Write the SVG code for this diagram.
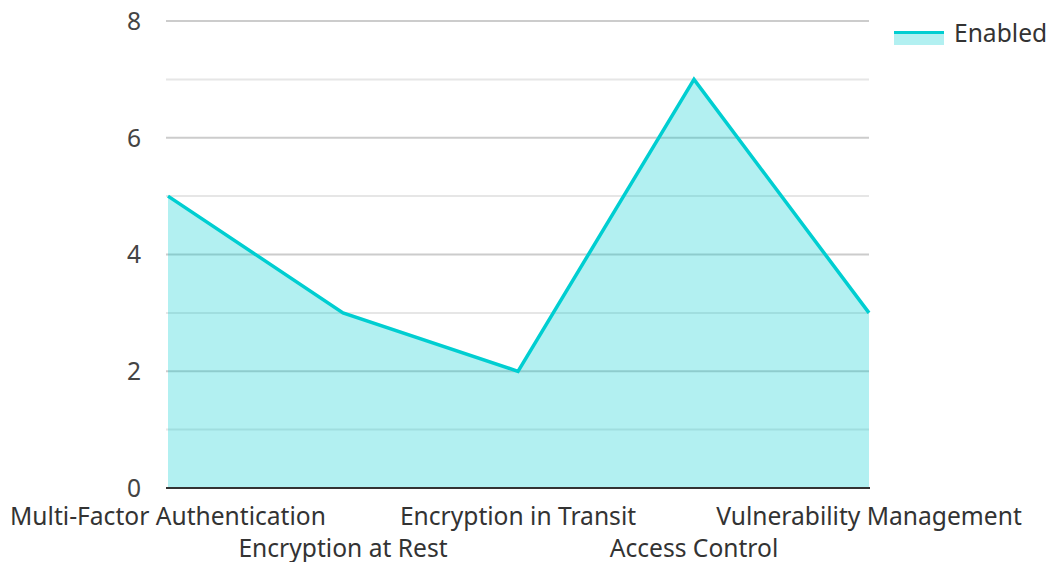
<svg xmlns="http://www.w3.org/2000/svg" width="1050" height="562" viewBox="0 0 1050 562">
<style>
.t{font-family:"Noto Sans","Open Sans",sans-serif;font-size:24.6px;fill:#333}
.ty{font-family:"Noto Sans","Open Sans",sans-serif;font-size:24.6px;fill:#444;text-anchor:end}
.tx{font-family:"Noto Sans","Open Sans",sans-serif;font-size:24.6px;fill:#333;text-anchor:middle}
.maj{stroke:#cccccc;stroke-width:2}
.min{stroke:#e6e6e6;stroke-width:2}
</style>
<rect width="1050" height="562" fill="#fff"/>
<g id="grid">
<line class="maj" x1="166" y1="21" x2="869" y2="21"/>
<line class="min" x1="166" y1="79.4" x2="869" y2="79.4"/>
<line class="maj" x1="166" y1="137.8" x2="869" y2="137.8"/>
<line class="min" x1="166" y1="196.1" x2="869" y2="196.1"/>
<line class="maj" x1="166" y1="254.5" x2="869" y2="254.5"/>
<line class="min" x1="166" y1="312.9" x2="869" y2="312.9"/>
<line class="maj" x1="166" y1="371.3" x2="869" y2="371.3"/>
<line class="min" x1="166" y1="429.6" x2="869" y2="429.6"/>
</g>
<g id="yaxis">
<text class="ty" x="141" y="30">8</text>
<text class="ty" x="141" y="147">6</text>
<text class="ty" x="141" y="263">4</text>
<text class="ty" x="141" y="380">2</text>
<text class="ty" x="141" y="497">0</text>
</g>
<g id="series">
<path d="M168,196.1 L343,312.9 L518,371.3 L694,79.4 L869,312.9 L869,488 L168,488 Z" fill="#00ced1" fill-opacity="0.3"/>
<polyline points="168,196.1 343,312.9 518,371.3 694,79.4 869,312.9" fill="none" stroke="#00ced1" stroke-width="3.5" stroke-linejoin="miter"/>
</g>
<line id="xaxis" x1="166" y1="488" x2="870" y2="488" stroke="#333" stroke-width="2"/>
<g id="xlabels">
<text class="tx" x="168" y="525">Multi-Factor Authentication</text>
<text class="tx" x="343" y="557">Encryption at Rest</text>
<text class="tx" x="518" y="525">Encryption in Transit</text>
<text class="tx" x="694" y="557">Access Control</text>
<text class="tx" x="869" y="525">Vulnerability Management</text>
</g>
<g id="legend">
<rect x="894" y="31" width="50" height="14" fill="#00ced1" fill-opacity="0.3"/>
<line x1="894" y1="32.5" x2="944" y2="32.5" stroke="#00ced1" stroke-width="3"/>
<text class="t" x="954" y="42">Enabled</text>
</g>
</svg>
